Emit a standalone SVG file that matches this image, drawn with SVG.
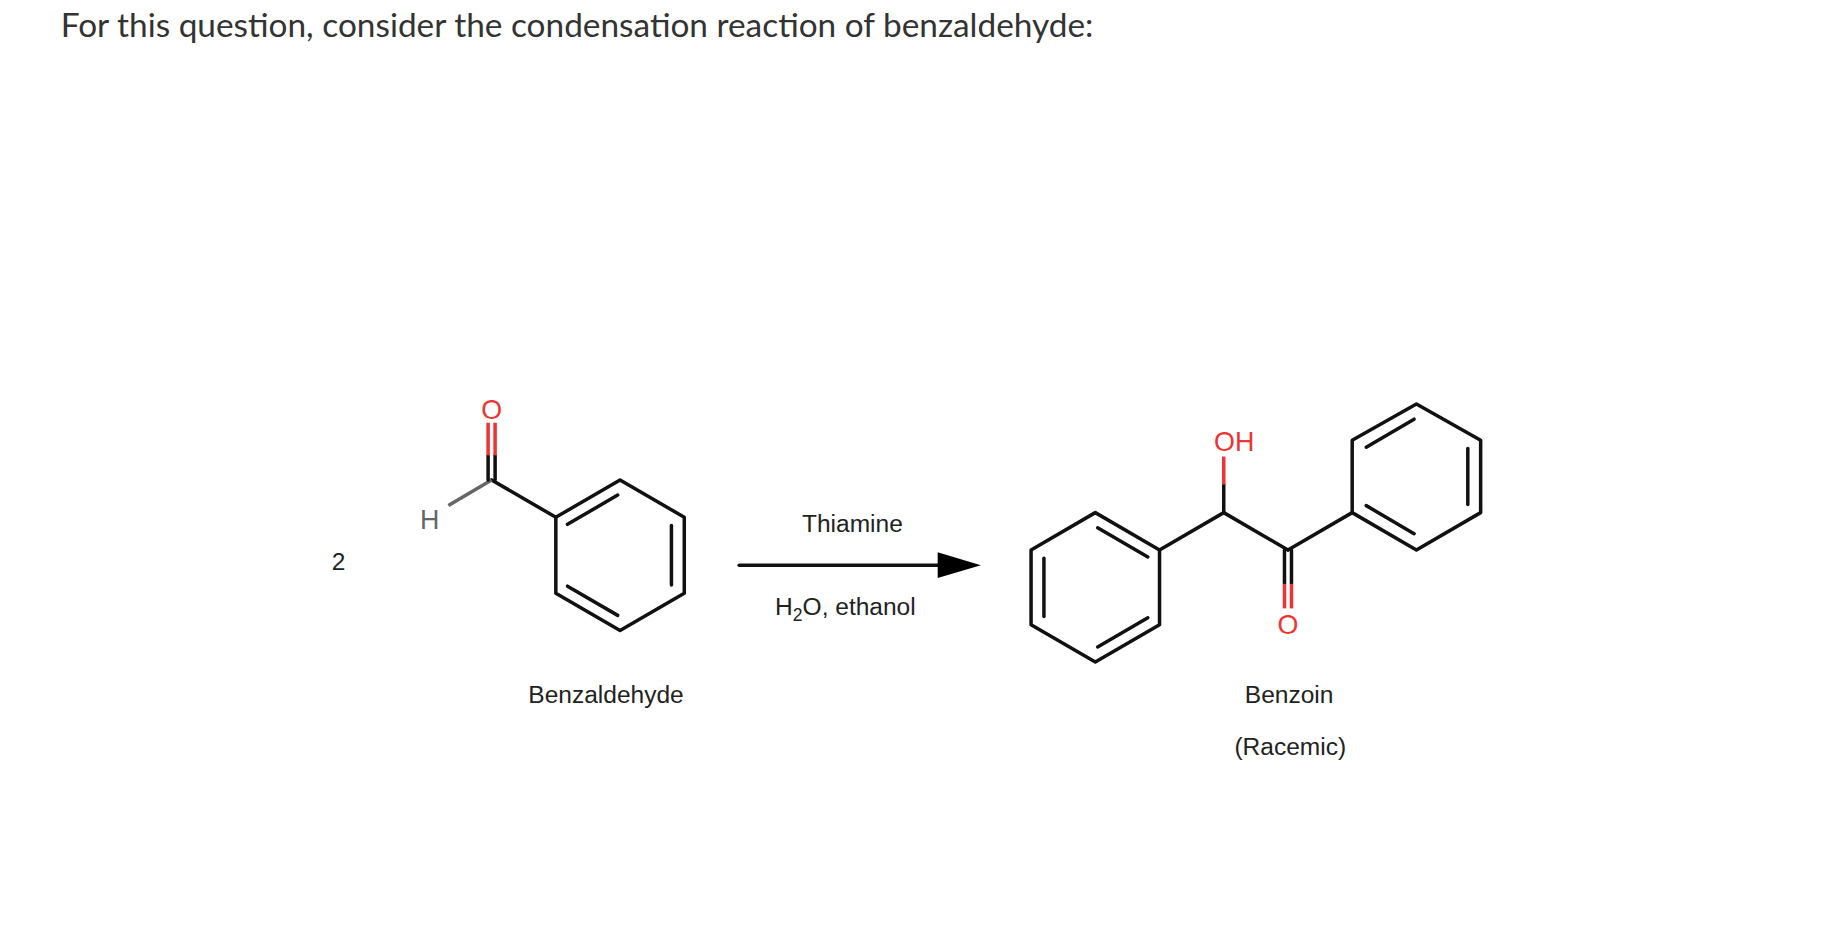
<svg xmlns="http://www.w3.org/2000/svg" width="1831" height="935" viewBox="0 0 1831 935">
<style>
.b{stroke:#111;stroke-width:3;fill:none;stroke-linecap:round;stroke-linejoin:round}
.r{stroke:#e33;stroke-width:3;fill:none}
.t{font-family:"Liberation Sans",Arial,sans-serif;font-size:21px;fill:#222;text-anchor:middle}
.red{fill:#e33;font-size:23px}
</style>
<rect width="1831" height="935" fill="#fff"/>
<g transform="scale(1.1677)">
<text x="52" y="32" style="font-family:Lato,sans-serif;font-size:28.6px;fill:#333">For this question, consider the condensation reaction of benzaldehyde:</text>
<g id="coef"><text class="t" x="290" y="488">2</text></g>
<g id="benzaldehyde">
<polygon class="b" points="531,411 586,443 586,508 531,540 476,508 476,443"/>
<line class="b" x1="486" y1="449" x2="529" y2="424"/>
<line class="b" x1="575" y1="450" x2="575" y2="501"/>
<line class="b" x1="486" y1="502" x2="529" y2="527"/>
<line class="b" x1="476" y1="443" x2="421" y2="411"/>
<line x1="421" y1="411" x2="384" y2="433" stroke="#666" stroke-width="3"/>
<line class="b" x1="418" y1="411" x2="418" y2="390"/><line class="b" x1="424" y1="411" x2="424" y2="390"/>
<line class="r" x1="418" y1="390" x2="418" y2="362"/><line class="r" x1="424" y1="390" x2="424" y2="362"/>
<text class="t red" x="421" y="359">O</text>
<text class="t" x="368" y="453" style="fill:#666;font-size:23px">H</text>
<text class="t" x="519" y="602">Benzaldehyde</text>
</g>
<g id="connectors">
<line class="b" x1="633" y1="484" x2="805" y2="484"/>
<polygon points="803,473 840,484 803,495" fill="#000"/>
<text class="t" x="730" y="456">Thiamine</text>
<text class="t" x="724" y="527">H<tspan font-size="15" dy="5">2</tspan><tspan dy="-5">O, ethanol</tspan></text>
</g>
<g id="benzoin">
<polygon class="b" points="938,439 993,471 993,535 938,567 883,535 883,471"/>
<line class="b" x1="940" y1="452" x2="983" y2="477"/>
<line class="b" x1="894" y1="478" x2="894" y2="528"/>
<line class="b" x1="940" y1="554" x2="983" y2="529"/>
<line class="b" x1="993" y1="471" x2="1048" y2="439"/>
<line class="b" x1="1048" y1="439" x2="1103" y2="471"/>
<line class="b" x1="1103" y1="471" x2="1158" y2="439"/>
<line class="b" x1="1048" y1="439" x2="1048" y2="415"/>
<line class="r" x1="1048" y1="415" x2="1048" y2="391"/>
<text class="t red" x="1057" y="386">OH</text>
<line class="b" x1="1100" y1="471" x2="1100" y2="500"/><line class="b" x1="1106" y1="471" x2="1106" y2="500"/>
<line class="r" x1="1100" y1="500" x2="1100" y2="521"/><line class="r" x1="1106" y1="500" x2="1106" y2="521"/>
<text class="t red" x="1103" y="543">O</text>
<polygon class="b" points="1158,439 1158,377 1213,346 1268,377 1268,439 1213,471"/>
<line class="b" x1="1170" y1="383" x2="1211" y2="359"/>
<line class="b" x1="1257" y1="384" x2="1257" y2="432"/>
<line class="b" x1="1170" y1="433" x2="1211" y2="457"/>
<text class="t" x="1104" y="602">Benzoin</text>
<text class="t" x="1105" y="647">(Racemic)</text>
</g>
</g>
</svg>
